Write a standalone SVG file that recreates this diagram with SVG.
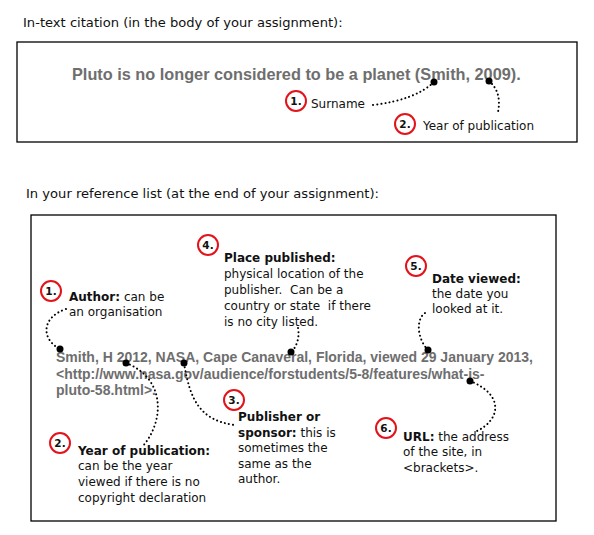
<svg xmlns="http://www.w3.org/2000/svg" width="594" height="535" viewBox="0 0 594 535">
<style>
text{font-family:"DejaVu Sans","Liberation Sans",Arial,sans-serif;fill:#111}
.t{font-size:13.1px}
.lab{font-size:12px}
.b{font-weight:bold}
.gray{font-family:"Liberation Sans",Arial,sans-serif;font-weight:bold;fill:#6e6e6e}
.cite{font-size:14px}
.num circle{fill:#fff;stroke:#e3131b;stroke-width:2}
.num text{font-size:10.5px;font-weight:bold;text-anchor:middle}
.box{fill:none;stroke:#000;stroke-width:1.3}
.dot{stroke:#000;stroke-width:2;stroke-dasharray:0.1 4;stroke-linecap:round;fill:none}
.end{fill:#000}
</style>
<rect width="594" height="535" fill="#fff"/>
<text class="t" x="23" y="27">In-text citation (in the body of your assignment):</text>
<rect class="box" x="17" y="42" width="560" height="100"/>
<text class="gray" x="72" y="80" style="font-size:16.3px">Pluto is no longer considered to be a planet (Smith, 2009).</text>
<g id="it1"><g class="num"><circle cx="296" cy="101" r="10"/><text x="296" y="105">1.</text></g><text class="lab" x="311" y="108">Surname</text></g>
<g id="it2"><g class="num"><circle cx="405" cy="124" r="10"/><text x="405" y="128">2.</text></g><text class="lab" x="423" y="130">Year of publication</text></g>

<text class="t" x="26" y="198">In your reference list (at the end of your assignment):</text>
<rect class="box" x="31" y="215" width="525" height="306"/>
<g id="citation">
<text class="gray cite" x="56" y="362">Smith, H 2012, NASA, Cape Canaveral, Florida, viewed 29 January 2013,</text>
<text class="gray cite" x="56" y="379">&lt;http://www.nasa.gov/audience/forstudents/5-8/features/what-is-</text>
<text class="gray cite" x="56" y="395">pluto-58.html&gt;.</text>
</g>
<g id="n4"><g class="num"><circle cx="208" cy="245" r="10"/><text x="208" y="249">4.</text></g>
<text class="lab" xml:space="preserve"><tspan x="224" y="262" class="b">Place published:</tspan><tspan x="224" y="278">physical location of the</tspan><tspan x="224" y="294">publisher.  Can be a</tspan><tspan x="224" y="310">country or state  if there</tspan><tspan x="224" y="326">is no city listed.</tspan></text></g>
<g id="n1"><g class="num"><circle cx="51" cy="291" r="10"/><text x="51" y="295">1.</text></g>
<text class="lab"><tspan x="69" y="301"><tspan class="b">Author:</tspan> can be</tspan><tspan x="69" y="316">an organisation</tspan></text></g>
<g id="n5"><g class="num"><circle cx="416" cy="266" r="10"/><text x="416" y="270">5.</text></g>
<text class="lab"><tspan x="432" y="283" class="b">Date viewed:</tspan><tspan x="432" y="298">the date you</tspan><tspan x="432" y="313">looked at it.</tspan></text></g>
<g id="n3"><g class="num"><circle cx="234" cy="400" r="10"/><text x="234" y="404">3.</text></g>
<text class="lab"><tspan x="238" y="421" class="b">Publisher or</tspan><tspan x="238" y="437"><tspan class="b">sponsor:</tspan> this is</tspan><tspan x="238" y="452">sometimes the</tspan><tspan x="238" y="468">same as the</tspan><tspan x="238" y="483">author.</tspan></text></g>
<g id="n2"><g class="num"><circle cx="60" cy="443" r="10"/><text x="60" y="447">2.</text></g>
<text class="lab"><tspan x="78" y="455" class="b">Year of publication:</tspan><tspan x="78" y="470">can be the year</tspan><tspan x="78" y="486">viewed if there is no</tspan><tspan x="78" y="502">copyright declaration</tspan></text></g>
<g id="n6"><g class="num"><circle cx="386" cy="428" r="10"/><text x="386" y="432">6.</text></g>
<text class="lab"><tspan x="403" y="441"><tspan class="b">URL:</tspan> the address</tspan><tspan x="403" y="456">of the site, in</tspan><tspan x="403" y="472">&lt;brackets&gt;.</tspan></text></g>

<g id="connectors">
<path class="dot" d="M373,105 Q415,100 434,82"/>
<path class="dot" d="M489,81 Q502,92 498,112"/>
<path class="dot" d="M66,309 C40,318 42,340 60,349"/>
<path class="dot" d="M126,363 C165,378 165,420 143,446"/>
<path class="dot" d="M184,363 C190,400 200,420 234,425"/>
<path class="dot" d="M298,328 C300,338 296,348 291,352"/>
<path class="dot" d="M425,313 C415,320 418,340 428,350"/>
<path class="dot" d="M470,381 C505,395 500,420 477,431"/>
<circle class="end" cx="434" cy="82" r="3.5"/>
<circle class="end" cx="489" cy="81" r="3.5"/>
<circle class="end" cx="60" cy="349" r="3.5"/>
<circle class="end" cx="126" cy="363" r="3.5"/>
<circle class="end" cx="184" cy="363" r="3.5"/>
<circle class="end" cx="291" cy="352" r="3.5"/>
<circle class="end" cx="428" cy="350" r="3.5"/>
<circle class="end" cx="470" cy="381" r="3.5"/>
</g>
</svg>
